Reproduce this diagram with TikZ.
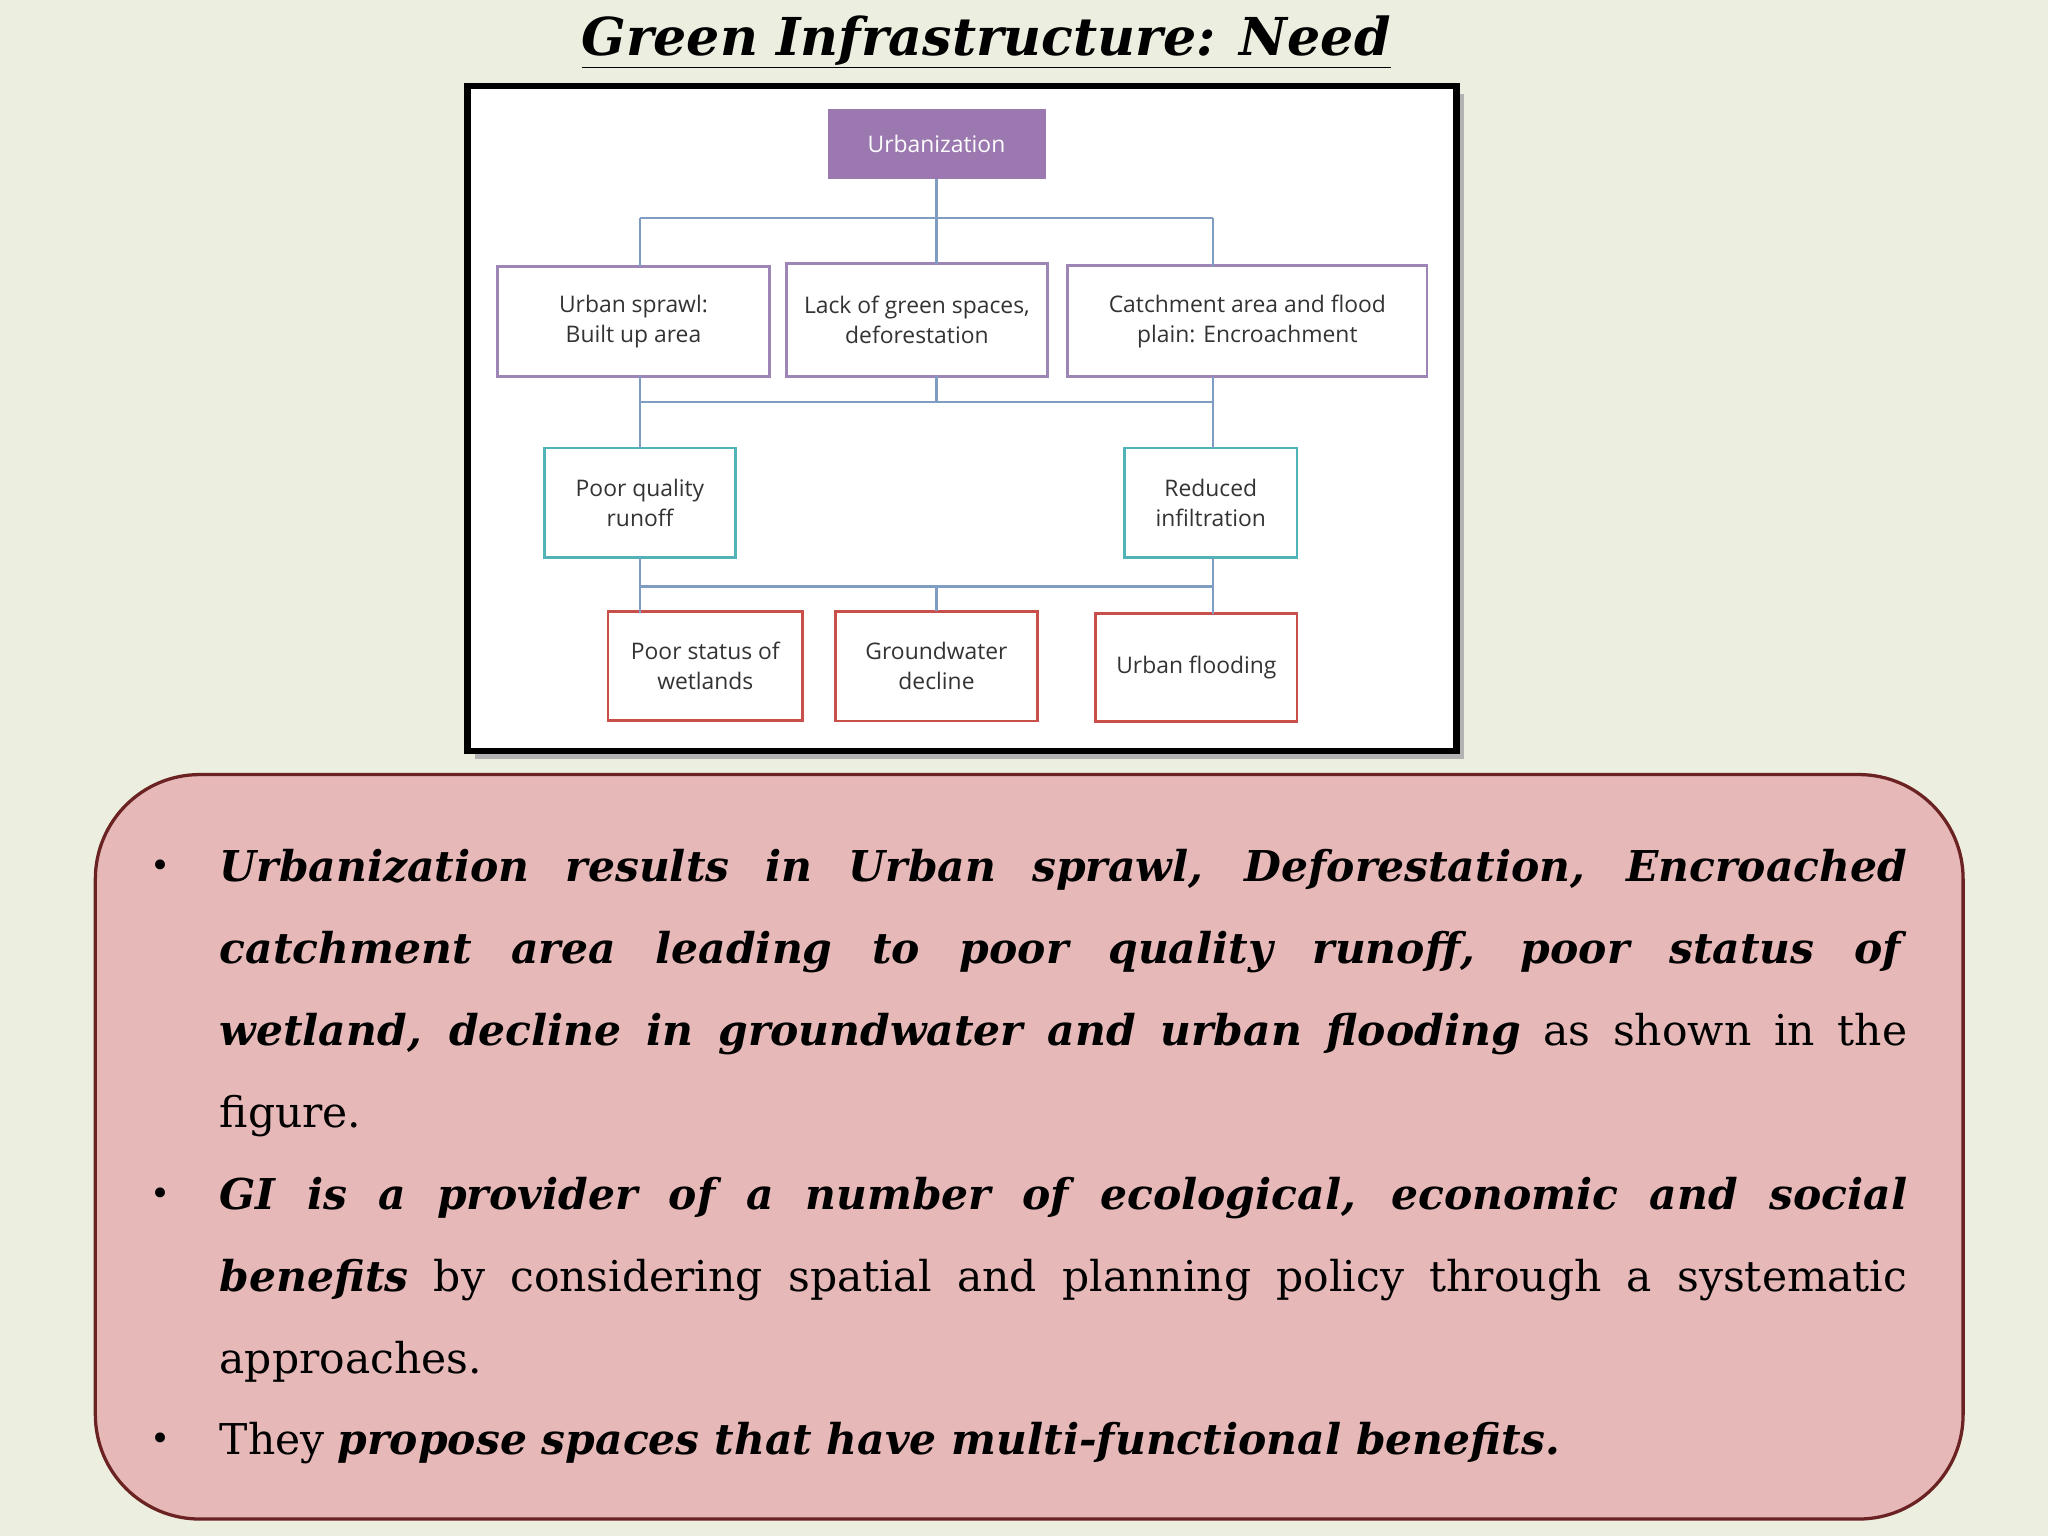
\documentclass[tikz,border=0pt]{standalone}
\usepackage{fontspec}
\setmainfont{DejaVu Serif}
\newfontfamily\diagfont{Open Sans}
\usetikzlibrary{calc}
\definecolor{bg}{HTML}{ECEFE0}
\definecolor{purp}{HTML}{9B78B0}
\definecolor{purpl}{HTML}{9D86B5}
\definecolor{teal1}{HTML}{4FB3B8}
\definecolor{red1}{HTML}{C9504A}
\definecolor{conn}{HTML}{7F9DC2}
\definecolor{pinkbox}{HTML}{E6B8B8}
\definecolor{darkred}{HTML}{6B2222}
\tikzset{
 x=1pt,y=-1pt,
 dbox/.style={draw=#1,line width=2.2pt,fill=white,inner sep=0,align=center,font=\diagfont\fontsize{17.5}{23}\selectfont,text=black!80},
 cn/.style={draw=conn,line width=1.6pt},
 para/.style={anchor=north west,inner sep=0,text width=1292pt,align=justify,font=\fontsize{32.5}{62.8}\selectfont},
 bul/.style={font=\fontsize{26}{30}\selectfont}
}
\begin{document}
\begin{tikzpicture}
\fill[bg] (0,0) rectangle (1568,1176);
\useasboundingbox (0,0) rectangle (1568,1176);
\node[font=\fontsize{40}{44}\selectfont\bfseries\itshape] (title) at (755,32) {\underline{Green Infrastructure: Need}};
% frame
\fill[black!30] (364,72) rectangle (1121,581);
\draw[line width=5pt,fill=white] (358,66) rectangle (1115,575);
% nodes
\node[fill=purp,draw=purp,minimum width=166pt,minimum height=53pt,inner sep=0,font=\diagfont\fontsize{17.5}{23}\selectfont,text=white] (u) at (717,110) {Urbanization};
\node[dbox=purpl,minimum width=208pt,minimum height=84pt] (a) at (485,246) {Urban sprawl:\\Built up area};
\node[dbox=purpl,minimum width=200pt,minimum height=86pt] (b) at (702,245) {Lack of green spaces,\\deforestation};
\node[dbox=purpl,minimum width=275pt,minimum height=85pt] (c) at (955,246) {Catchment area and flood\\plain: Encroachment};
\node[dbox=teal1,minimum width=146pt,minimum height=84pt] (p) at (490,385) {Poor quality\\runoff};
\node[dbox=teal1,minimum width=132pt,minimum height=84pt] (r) at (927,385) {Reduced\\infiltration};
\node[dbox=red1,minimum width=149pt,minimum height=83pt] (w) at (540,510) {Poor status of\\wetlands};
\node[dbox=red1,minimum width=154pt,minimum height=84pt] (g) at (717,510) {Groundwater\\decline};
\node[dbox=red1,minimum width=154pt,minimum height=83pt] (f) at (916,511) {Urban flooding};
% connectors
\coordinate (h1) at (717,167);
\draw[cn] (u.south) -- (h1);
\draw[cn] (490,167) -- (929,167);
\draw[cn] (490,167) -- (490,204);
\draw[cn] (h1) -- (717,202);
\draw[cn] (929,167) -- (929,204);
\draw[cn] (490,288) -- (490,343);
\draw[cn] (717,288) -- (717,308);
\draw[cn] (929,289) -- (929,343);
\draw[cn] (490,308) -- (929,308);
\draw[cn] (490,427) -- (490,469);
\draw[cn] (929,427) -- (929,470);
\draw[cn] (490,449) -- (929,449);
\draw[cn] (717,449) -- (717,468);
% bottom box
\draw[draw=darkred,line width=2.5pt,fill=pinkbox,rounded corners=80pt] (73,593) rectangle (1503,1163);
\node[bul] (b1) at (123,665) {•};
\node[bul] (b2) at (123,916) {•};
\node[bul] (b3) at (123,1104) {•};
\node[para] (t1) at (168,650) {\textbf{\textit{Urbanization results in Urban sprawl, Deforestation, Encroached}}\linebreak
\textbf{\textit{catchment area leading to poor quality runoff, poor status of}}\linebreak
\textbf{\textit{wetland, decline in groundwater and urban flooding}} as shown in the\linebreak figure.};
\node[para] (t2) at (168,901) {\textbf{\textit{GI is a provider of a number of ecological, economic and social}}\linebreak
\textbf{\textit{benefits}} by considering spatial and planning policy through a systematic\linebreak approaches.};
\node[para] (t3) at (168,1089) {They \textbf{\textit{propose spaces that have multi-functional benefits.}}};
\end{tikzpicture}
\end{document}
